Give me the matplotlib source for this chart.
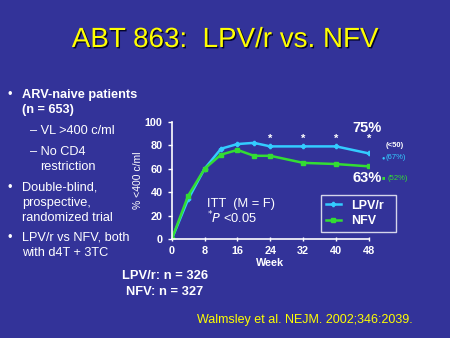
import matplotlib.pyplot as plt
import matplotlib.patheffects as pe

plt.rcParams["font.family"] = ["Liberation Sans", "DejaVu Sans"]

# Data
weeks = [0, 4, 8, 12, 16, 20, 24, 32, 40, 48]
lpv = [0, 34, 60, 77, 81, 82, 79, 79, 79, 73]
nfv = [0, 37, 60, 72, 76, 71, 71, 65, 64, 62]
star_weeks = [24, 32, 40, 48]
star_y = 85
xticks = [0, 8, 16, 24, 32, 40, 48]
yticks = [0, 20, 40, 60, 80, 100]

BG = "#333399"
CYAN = "#33ccff"
GREEN = "#33dd33"
YELLOW = "#ffff00"
W, H = 450, 338


def fx(x):
    return x / W


def fy(y):
    return 1 - y / H


fig = plt.figure(figsize=(4.5, 3.38), dpi=100, facecolor=BG)

# Title
fig.text(fx(225), fy(40), "ABT 863:  LPV/r vs. NFV", color=YELLOW, fontsize=20,
         ha="center", va="center",
         path_effects=[pe.withSimplePatchShadow(offset=(1, -1), shadow_rgbFace="#000022", alpha=0.9)])

# Left bullet text
bullets = [
    (8, 95, "\u2022", False), (22, 95, "ARV-naive patients", True),
    (22, 110, "(n = 653)", True),
    (30, 131, "\u2013 VL >400 c/ml", False),
    (30, 152, "\u2013 No CD4", False),
    (40, 167, "restriction", False),
    (8, 188, "\u2022", False), (22, 188, "Double-blind,", False),
    (22, 203, "prospective,", False),
    (22, 218, "randomized trial", False),
    (8, 238, "\u2022", False), (22, 238, "LPV/r vs NFV, both", False),
    (22, 253, "with d4T + 3TC", False),
]
for x, y, s, bold in bullets:
    fig.text(fx(x), fy(y), s, color="white", fontsize=9.2, ha="left", va="center",
             fontweight="bold" if bold else "normal")

fig.text(fx(165), fy(276), "LPV/r: n = 326", color="white", fontsize=9.3,
         fontweight="bold", ha="center", va="center")
fig.text(fx(165), fy(292), "NFV: n = 327", color="white", fontsize=9.3,
         fontweight="bold", ha="center", va="center")
fig.text(fx(197), fy(320), "Walmsley et al. NEJM. 2002;346:2039.", color=YELLOW,
         fontsize=9, ha="left", va="center")

# Chart
ax = fig.add_axes([fx(171.7), fy(239.3), 197.3 / W, 117.6 / H])
ax.set_facecolor(BG)
ax.plot(weeks, lpv, color=CYAN, lw=1.8, marker="P", ms=3, label="LPV/r")
ax.plot(weeks, nfv, color=GREEN, lw=1.8, marker="s", ms=3.2, label="NFV")
for w in star_weeks:
    ax.text(w, star_y, "*", color="white", fontsize=8, fontweight="bold",
            ha="center", va="center")

ax.set_xlim(0, 48)
ax.set_ylim(0, 100)
ax.set_xticks(xticks)
ax.set_yticks(yticks)
ax.tick_params(colors="white", labelsize=7.8, length=3, width=1)
ax.tick_params(axis="x", direction="inout")
for lab in ax.get_xticklabels() + ax.get_yticklabels():
    lab.set_fontweight("bold")
for side in ["top", "right"]:
    ax.spines[side].set_visible(False)
for side in ["left", "bottom"]:
    ax.spines[side].set_color("white")
    ax.spines[side].set_linewidth(1.2)
ax.set_xlabel("Week", color="white", fontsize=7.8, fontweight="bold", labelpad=1)
ax.set_ylabel("% <400 c/ml", color="white", fontsize=7.5, labelpad=1)

ax.text(8.5, 30, "ITT  (M = F)", color="white", fontsize=9.3, ha="left", va="center")
ax.text(8.5, 18, "$^{*}$$\\it{P}$ <0.05", color="white", fontsize=9.3, ha="left", va="center")

leg = ax.legend(loc="lower left", bbox_to_anchor=((320.7 - 171.7) / 197.3, (239.3 - 232.3) / 117.6,
                                                    75 / 197.3, 40 / 117.6),
                mode="expand", frameon=True, fancybox=False, fontsize=9,
                handlelength=1.2, borderaxespad=0, labelspacing=0.3)
leg.get_frame().set_facecolor(BG)
leg.get_frame().set_edgecolor("white")
leg.get_frame().set_linewidth(1)
for t in leg.get_texts():
    t.set_color("white")
    t.set_fontweight("bold")

# Right-side annotations
fig.text(fx(367), fy(128.5), "75%", color="white", fontsize=10.5, fontweight="bold",
         ha="center", va="center")
fig.text(fx(386), fy(145), "(<50)", color="white", fontsize=5.5, fontweight="bold",
         ha="left", va="center")
fig.text(fx(381), fy(158), "\u25cf", color=CYAN, fontsize=4, ha="left", va="center")
fig.text(fx(386), fy(158), "(67%)", color=CYAN, fontsize=5.5, ha="left", va="center")
fig.text(fx(367), fy(178), "63%", color="white", fontsize=10.5, fontweight="bold",
         ha="center", va="center")
fig.text(fx(382), fy(178), "\u25a0", color=GREEN, fontsize=4, ha="left", va="center")
fig.text(fx(387), fy(178), "(52%)", color=GREEN, fontsize=5.5, ha="left", va="center")

fig.savefig("out.png", dpi=100, facecolor=BG)
